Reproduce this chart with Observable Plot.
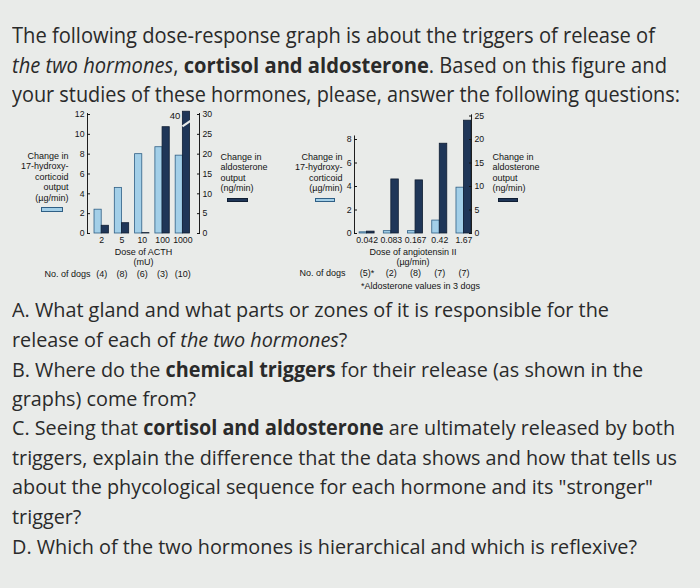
<!DOCTYPE html>
<html><head><meta charset="utf-8">
<script src="https://cdn.jsdelivr.net/npm/d3@7"></script>
<script src="https://cdn.jsdelivr.net/npm/@observablehq/plot@0.6"></script>
<style>
html,body{margin:0;padding:0;}
body{width:700px;height:588px;overflow:hidden;background:#e9ebe9;position:relative;font-family:"Open Sans",sans-serif;color:#2a2a2a;}
.ln{position:absolute;left:12px;white-space:nowrap;transform-origin:0 0;}
.ln b{font-weight:700;}
.chart{position:absolute;}
.sw{position:absolute;box-sizing:border-box;}
</style></head><body>
<div id="page"></div>
<script>
// ---------- data ----------
const acthDoses = ["2", "5", "10", "100", "1000"];
const acthCortisol = [2.4, 4.6, 8.0, 8.7, 7.85];      // 17-hydroxycorticoid, µg/min
const acthAldo = [1.95, 2.6, 0.1, 26.8, 40];          // aldosterone, ng/min
const acthDogs = ["(4)", "(8)", "(6)", "(3)", "(10)"];

const angDoses = ["0.042", "0.083", "0.167", "0.42", "1.67"];
const angCortisol = [0.1, 0.2, 0.2, 1.1, 3.9];
const angAldo = [0.4, 11.5, 11.3, 19.1, 24.0];
const angDogs = ["(5)*", "(2)", "(8)", "(7)", "(7)"];

const acthLeftTicks = [0, 2, 4, 6, 8, 10, 12];
const acthRightTicks = [0, 5, 10, 15, 20, 25, 30];
const angLeftTicks = [0, 2, 4, 6, 8];
const angRightTicks = [0, 5, 10, 15, 20, 25];

const upperLines = [
  "The following dose-response graph is about the triggers of release of",
  "<i>the two hormones</i>, <b>cortisol and aldosterone</b>. Based on this figure and",
  "your studies of these hormones, please, answer the following questions:"
];
const lowerLines = [
  "A. What gland and what parts or zones of it is responsible for the",
  "release of each of <i>the two hormones</i>?",
  "B. Where do the <b>chemical triggers</b> for their release (as shown in the",
  "graphs) come from?",
  "C. Seeing that <b>cortisol and aldosterone</b> are ultimately released by both",
  "triggers, explain the difference that the data shows and how that tells us",
  "about the phycological sequence for each hormone and its \"stronger\"",
  "trigger?",
  "D. Which of the two hormones is hierarchical and which is reflexive?"
];
// layout of the text lines: baseline y, right end x (null = use the common width scale)
const upperLayout = [[43, 655], [73, 667], [102, 680]];
const lowerLayout = [[317, 609], [347, null], [377, 643], [406.5, null], [435.5, 675], [465, 677], [494.5, 653], [524.5, null], [554.5, 637]];

// ---------- text ----------
const page = document.getElementById("page");
const groups = [];
function addLines(lines, layout, size) {
  const g = [];
  lines.forEach((html, k) => {
    const el = document.createElement("div");
    el.className = "ln";
    el.innerHTML = html;
    el.style.fontSize = size + "px";
    el.style.lineHeight = size + "px";
    el.style.top = (layout[k][0] - 0.888 * size) + "px";
    page.appendChild(el);
    g.push([el, layout[k][1]]);
  });
  groups.push(g);
}
addLines(upperLines, upperLayout, 21.5);
addLines(lowerLines, lowerLayout, 20.5);
function fit() {
  for (const g of groups) {
    const scales = [];
    for (const [el, right] of g) {
      el.style.transform = "none";
      const w = el.getBoundingClientRect().width;
      el._w = w;
      if (right != null) scales.push((right - 12) / w);
    }
    const med = d3.median(scales);
    for (const [el, right] of g) {
      const s = right != null ? (right - 12) / el._w : med;
      el.style.transform = `scaleX(${s})`;
    }
  }
}
fit();
if (document.fonts) document.fonts.ready.then(fit);

// ---------- charts ----------
const RATIO = 2.5; // ng/min of aldosterone per µg/min of corticoid on the shared vertical scale
const LIGHT = "#a3cfe8", LIGHT_STROKE = "#2f5f85", DARK = "#1f3658", DARK_STROKE = "#101e33", BG = "#e9ebe9";

function makeChart(cfg) {
  const rows = cfg.doses.map((d, i) => ({i, dose: d, cort: cfg.cort[i], aldo: cfg.aldo[i], dogs: cfg.dogs[i]}));
  const topNg = cfg.rightTicks[cfg.rightTicks.length - 1];
  const capNg = topNg + 0.7;
  const broken = rows.filter(r => r.aldo > capNg);
  const fs = 8.7, ts = 9;
  return Plot.plot({
    width: cfg.width, height: cfg.height,
    marginLeft: cfg.ml, marginRight: cfg.mr, marginTop: cfg.mt, marginBottom: cfg.mb,
    style: {fontFamily: "'Liberation Sans', Arial, sans-serif", fontSize: "9px", color: "#141414", background: "transparent", overflow: "visible"},
    x: {type: "linear", domain: cfg.xDomain, axis: null},
    y: {domain: [0, cfg.yMax], axis: null},
    marks: [
      Plot.rectY(rows, {x1: r => r.i - cfg.barW, x2: r => r.i, y: "cort", fill: LIGHT, stroke: LIGHT_STROKE, strokeWidth: 0.8}),
      Plot.rectY(rows, {x1: r => r.i, x2: r => r.i + cfg.barW, y: r => Math.min(r.aldo, capNg) / RATIO, fill: DARK, stroke: DARK_STROKE, strokeWidth: 0.8}),
      Plot.link(broken, {x1: r => r.i - 0.02, x2: r => r.i + cfg.barW + 0.02, y1: (topNg - 3) / RATIO, y2: (topNg - 1.6) / RATIO, stroke: BG, strokeWidth: 2.2}),
      Plot.text(broken, {x: r => r.i, y: capNg / RATIO, text: r => String(r.aldo), textAnchor: "end", dx: -2.5, dy: 4, fontSize: 9.5}),
      Plot.ruleX([cfg.xDomain[0]], {y1: 0, y2: cfg.leftLineTop, stroke: "#1e1e1e", strokeWidth: 1}),
      Plot.ruleX([cfg.xDomain[1]], {y1: 0, y2: cfg.rightLineTop, stroke: "#1e1e1e", strokeWidth: 1}),
      Plot.axisY({anchor: "left", ticks: cfg.leftTicks, tickSize: -3, tickPadding: 6, label: null, fontSize: fs}),
      Plot.axisY({anchor: "right", ticks: cfg.rightTicks.map(v => v / RATIO), tickFormat: v => Math.round(v * RATIO), tickSize: -3, tickPadding: 6, label: null, fontSize: fs}),
      Plot.axisX({anchor: "bottom", ticks: rows.map(r => r.i), tickFormat: i => cfg.doses[i], tickSize: 0, tickPadding: 3.5, label: null, fontSize: fs}),
      Plot.text([cfg.leftTitle], {text: d => d, frameAnchor: "left", textAnchor: "end", dx: cfg.ltDx, dy: cfg.ltDy, lineHeight: 1.17, fontSize: ts}),
      Plot.text([cfg.rightTitle], {text: d => d, frameAnchor: "right", textAnchor: "start", dx: cfg.rtDx, dy: cfg.rtDy, lineHeight: 1.17, fontSize: ts}),
      Plot.text([cfg.xTitle], {text: d => d, frameAnchor: "bottom", lineAnchor: "top", dy: 14, lineHeight: 1.15, fontSize: ts}),
      Plot.text(rows, {x: "i", text: "dogs", frameAnchor: "bottom", dy: cfg.dogsDy, fontSize: ts}),
      Plot.text(["No. of dogs"], {text: d => d, frameAnchor: "bottom-left", textAnchor: "end", dx: cfg.dogLabelDx, dy: cfg.dogsDy, fontSize: ts}),
      ...(cfg.note ? [Plot.text([cfg.note], {text: d => d, frameAnchor: "bottom", dx: 7.5, dy: 55, fontSize: ts})] : [])
    ]
  });
}

const c1 = makeChart({
  doses: acthDoses, cort: acthCortisol, aldo: acthAldo, dogs: acthDogs,
  width: 290, height: 195, ml: 87, mr: 91, mt: 14, mb: 62,
  xDomain: [-0.70, 4.82], yMax: 12, barW: 0.354,
  leftTicks: acthLeftTicks, rightTicks: acthRightTicks, leftLineTop: 12.1, rightLineTop: 12.1,
  leftTitle: "Change in\n17-hydroxy-\ncorticoid\noutput\n(µg/min)", ltDx: -19, ltDy: 2.5,
  rightTitle: "Change in\naldosterone\noutput\n(ng/min)", rtDx: 21, rtDy: -2,
  xTitle: "Dose of ACTH\n(mU)", dogsDy: 43, dogLabelDx: 3
});
c1.classList.add("chart"); c1.style.left = "0px"; c1.style.top = "100px";
page.appendChild(c1);

const c2 = makeChart({
  doses: angDoses, cort: angCortisol, aldo: angAldo, dogs: angDogs,
  width: 270, height: 200, ml: 64, mr: 89, mt: 15.5, mb: 67,
  xDomain: [-0.52, 4.31], yMax: 10, barW: 0.31,
  leftTicks: angLeftTicks, rightTicks: angRightTicks, leftLineTop: 8.3, rightLineTop: 10.1,
  leftTitle: "Change in\n17-hydroxy-\ncorticoid\n(µg/min)", ltDx: -12, ltDy: -2.75,
  rightTitle: "Change in\naldosterone\noutput\n(ng/min)", rtDx: 21, rtDy: -2.75,
  xTitle: "Dose of angiotensin II\n(µg/min)", dogsDy: 42, dogLabelDx: -9,
  note: "*Aldosterone values in 3 dogs"
});
c2.classList.add("chart"); c2.style.left = "290px"; c2.style.top = "100px";
page.appendChild(c2);

// legend swatches
[[41, 207, 22, 5, LIGHT, LIGHT_STROKE], [227, 198, 21, 4, DARK, DARK_STROKE],
 [315, 198, 20, 4, LIGHT, LIGHT_STROKE], [498, 198, 20, 4, DARK, DARK_STROKE]].forEach(([x, y, w, h, f, s]) => {
  const d = document.createElement("div");
  d.className = "sw";
  Object.assign(d.style, {left: x + "px", top: y + "px", width: w + "px", height: h + "px", background: f, border: "1px solid " + s});
  page.appendChild(d);
});
</script>
</body></html>
